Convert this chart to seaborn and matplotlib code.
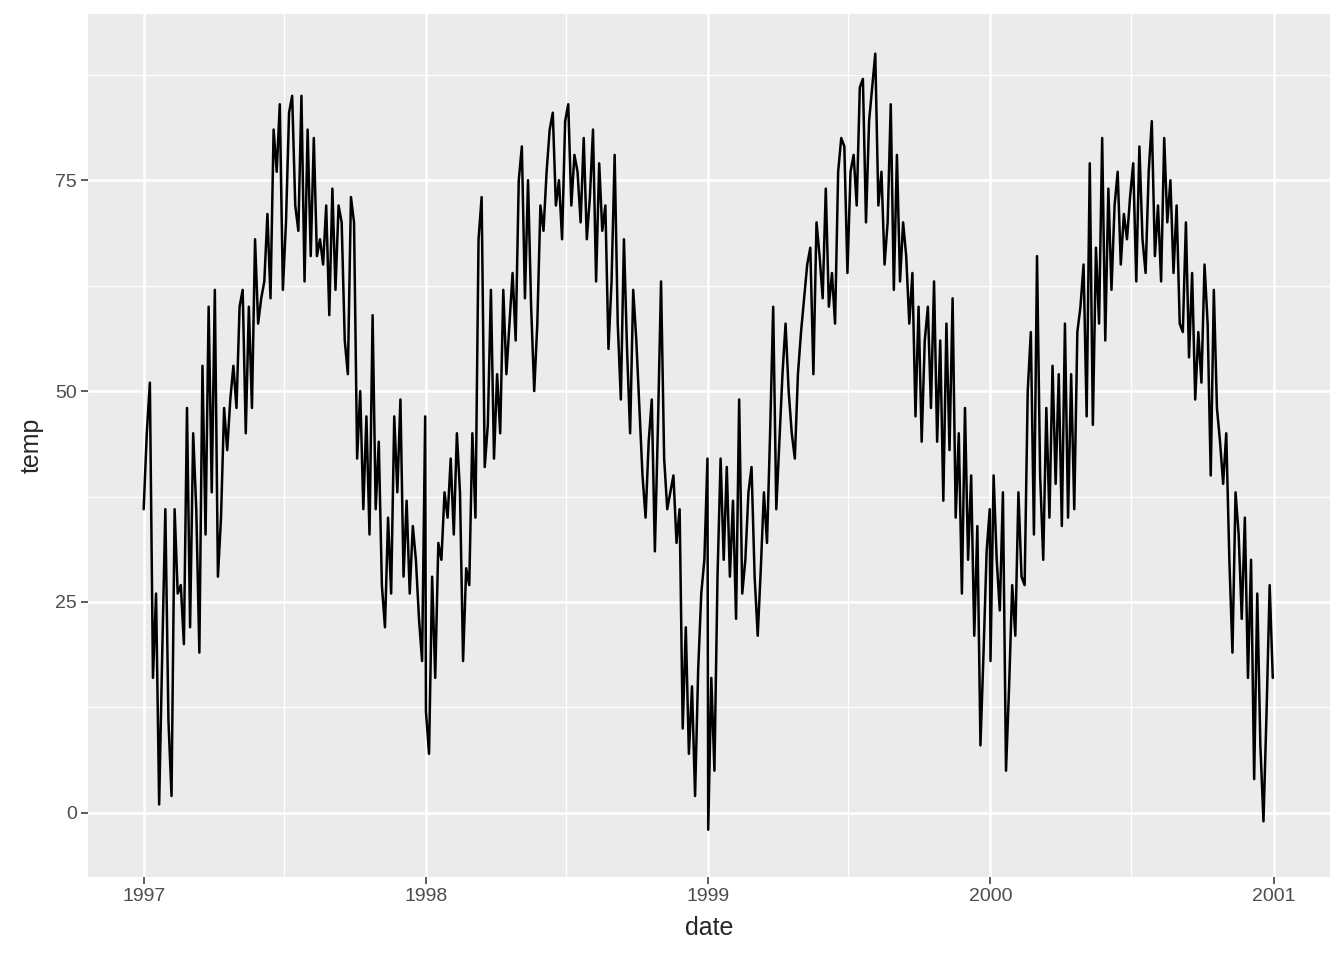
import numpy as np
import pandas as pd
import matplotlib
matplotlib.use("Agg")
import matplotlib.pyplot as plt
import matplotlib.dates as mdates
import seaborn as sns

# temperatures, roughly every 4 days per year
temp_1997 = [36, 45, 51, 16, 26, 1, 19, 36, 11, 2, 36, 26, 27, 20, 48, 22, 45, 36, 19, 53,
             33, 60, 38, 62, 28, 35, 48, 43, 49, 53, 48, 60, 62, 45, 60, 48, 68, 58, 61, 63,
             71, 61, 81, 76, 84, 62, 70, 83, 85, 72, 69, 85, 63, 81, 66, 80, 66, 68, 65, 72,
             59, 74, 62, 72, 70, 56, 52, 73, 70, 42, 50, 36, 47, 33, 59, 36, 44, 27, 22, 35,
             26, 47, 38, 49, 28, 37, 26, 34, 30, 23, 18, 47]
temp_1998 = [12, 7, 28, 16, 32, 30, 38, 35, 42, 33, 45, 38, 18, 29, 27, 45, 35, 68, 73, 41,
             46, 62, 42, 52, 45, 62, 52, 58, 64, 56, 75, 79, 61, 75, 60, 50, 58, 72, 69, 76,
             81, 83, 72, 75, 68, 82, 84, 72, 78, 76, 70, 80, 68, 73, 81, 63, 77, 69, 72, 55,
             63, 78, 58, 49, 68, 55, 45, 62, 56, 48, 40, 35, 44, 49, 31, 46, 63, 42, 36, 38,
             40, 32, 36, 10, 22, 7, 15, 2, 17, 26, 30, 42]
temp_1999 = [-2, 16, 5, 28, 42, 30, 41, 28, 37, 23, 49, 26, 30, 38, 41, 28, 21, 29, 38, 32,
             45, 60, 36, 44, 52, 58, 50, 45, 42, 52, 57, 61, 65, 67, 52, 70, 66, 61, 74, 60,
             64, 58, 76, 80, 79, 64, 76, 78, 72, 86, 87, 70, 82, 86, 90, 72, 76, 65, 70, 84,
             62, 78, 63, 70, 66, 58, 64, 47, 60, 44, 56, 60, 48, 63, 44, 56, 37, 58, 43, 61,
             35, 45, 26, 48, 30, 40, 21, 34, 8, 19, 31, 36]
temp_2000 = [18, 40, 30, 24, 38, 5, 15, 27, 21, 38, 28, 27, 50, 57, 33, 66, 40, 30, 48, 35,
             53, 39, 52, 34, 58, 35, 52, 36, 57, 60, 65, 47, 77, 46, 67, 58, 80, 56, 74, 62,
             72, 76, 65, 71, 68, 73, 77, 63, 79, 68, 64, 76, 82, 66, 72, 63, 80, 70, 75, 64,
             72, 58, 57, 70, 54, 64, 49, 57, 51, 65, 58, 40, 62, 48, 44, 39, 45, 30, 19, 38,
             33, 23, 35, 16, 30, 4, 26, 8, -1, 12, 27, 16]
years = [1997, 1998, 1999, 2000]

frames = []
for yr, vals in zip(years, [temp_1997, temp_1998, temp_1999, temp_2000]):
    d = pd.date_range(f"{yr}-01-01", f"{yr}-12-31", periods=len(vals))
    frames.append(pd.DataFrame({"date": d, "temp": vals}))
df = pd.concat(frames, ignore_index=True)

sns.set_theme(style="darkgrid", rc={"axes.facecolor": "#EBEBEB", "grid.color": "white"})
plt.rcParams["font.family"] = ["Liberation Sans", "DejaVu Sans"]

fig = plt.figure(figsize=(13.44, 9.6), dpi=100)
ax = fig.add_axes([88 / 1344, 1 - 877 / 960, (1330 - 88) / 1344, (877 - 14) / 960])
sns.lineplot(data=df, x="date", y="temp", color="black", linewidth=1.8, ax=ax)

ax.set_xlim(pd.Timestamp("1996-10-21"), pd.Timestamp("2001-03-15"))
ax.set_ylim(-7.6, 94.7)
ax.set_yticks([0, 25, 50, 75])
ax.set_yticks([12.5, 37.5, 62.5, 87.5], minor=True)
ax.xaxis.set_major_locator(mdates.YearLocator())
ax.xaxis.set_major_formatter(mdates.DateFormatter("%Y"))
ax.xaxis.set_minor_locator(mdates.MonthLocator(bymonth=7))
ax.grid(which="major", color="white", linewidth=1.8)
ax.grid(which="minor", color="white", linewidth=0.9)
ax.tick_params(which="major", length=5, width=1.1, color="#333333", labelsize=14,
               labelcolor="#4D4D4D", pad=3, bottom=True, left=True)
ax.tick_params(which="minor", length=0)
for s in ax.spines.values():
    s.set_visible(False)
ax.set_xlabel("date", fontsize=18, labelpad=8)
ax.set_ylabel("temp", fontsize=18, labelpad=8)

fig.savefig("out.png", dpi=100)
